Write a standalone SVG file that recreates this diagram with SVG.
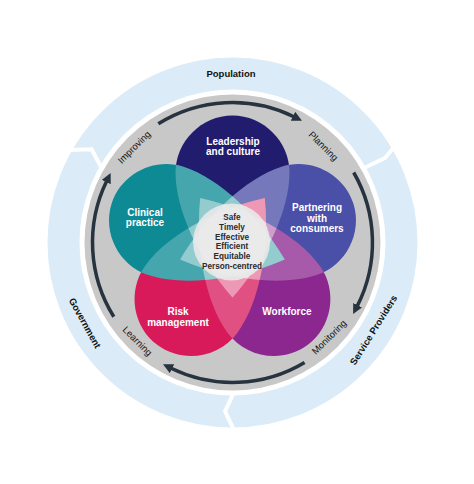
<svg xmlns="http://www.w3.org/2000/svg" width="474" height="484" viewBox="0 0 474 484">
<style>
.lbl{font-family:"Liberation Sans",Arial,sans-serif;font-weight:bold;font-size:10px;fill:#fff;text-anchor:middle}
.ctr{font-family:"Liberation Sans",Arial,sans-serif;font-weight:bold;font-size:8.2px;fill:#2b2b2b;text-anchor:middle}
.ring{font-family:"Liberation Sans",Arial,sans-serif;font-size:9.5px;fill:#151515;text-anchor:middle}
.outer{font-family:"Liberation Sans",Arial,sans-serif;font-weight:bold;font-size:9.5px;fill:#111;text-anchor:middle}
.arc{fill:none;stroke:#27333e;stroke-width:3.5;marker-end:url(#ah)}
.ov{fill:#fff;fill-opacity:0.24}
.brk{fill:none;stroke:#fff;stroke-width:4;stroke-linejoin:miter}
</style>
<defs>
<marker id="ah" markerUnits="userSpaceOnUse" viewBox="0 0 10 10" markerWidth="10" markerHeight="10" refX="1" refY="5" orient="auto"><path d="M0,0 L10,5 L0,10 z" fill="#27333e"/></marker>
<path id="petal" d="M0,-127 C31,-127 57,-101 57,-70 C57,-32 33,18 0,55 C-33,18 -57,-32 -57,-70 C-57,-101 -31,-127 0,-127 Z"/>
<clipPath id="c0"><use href="#petal" transform="translate(232.5 242.5) rotate(0)"/></clipPath>
<clipPath id="c1"><use href="#petal" transform="translate(232.5 242.5) rotate(72)"/></clipPath>
<clipPath id="c2"><use href="#petal" transform="translate(232.5 242.5) rotate(144)"/></clipPath>
<clipPath id="c3"><use href="#petal" transform="translate(232.5 242.5) rotate(216)"/></clipPath>
</defs>
<rect width="474" height="484" fill="#fff"/>
<g id="outer-ring">
<circle cx="232.5" cy="242.5" r="169" fill="none" stroke="#dbecf8" stroke-width="32"/>
<polyline class="brk" points="68.9,149.9 91.6,149.2 101.9,168.6"/>
<polyline class="brk" points="395,146 385,158 364,168"/>
<polyline class="brk" points="234.1,430.5 225.1,411.3 233.8,392.5"/>
</g>
<g id="outer-labels">
<text class="outer" x="231" y="77">Population</text>
<text class="outer" transform="translate(85 323) rotate(61)" y="3.4">Government</text>
<text class="outer" transform="translate(373.5 330) rotate(-58)" y="3.4">Service Providers</text>
</g>
<circle id="gray-disc" cx="232.5" cy="242.5" r="148" fill="#c8c8c8"/>
<g id="connectors">
<path class="arc" d="M158.3,123.8 A140,140 0 0 1 293.9,116.7"/>
<path class="arc" d="M353.7,172.5 A140,140 0 0 1 357.2,306.1"/>
<path class="arc" d="M304.6,362.5 A140,140 0 0 1 171.1,368.3"/>
<path class="arc" d="M113.8,316.7 A140,140 0 0 1 106.7,181.1"/>
</g>
<g id="cycle-labels">
<text class="ring" transform="translate(134 147) rotate(-45)" y="3.4">Improving</text>
<text class="ring" transform="translate(323.5 146) rotate(45)" y="3.4">Planning</text>
<text class="ring" transform="translate(329 337) rotate(-45)" y="3.4">Monitoring</text>
<text class="ring" transform="translate(137.5 341) rotate(45)" y="3.4">Learning</text>
</g>
<g id="leadership"><use href="#petal" transform="translate(232.5 242.5) rotate(0)" fill="#211c6d"/></g>
<g id="partnering"><use href="#petal" transform="translate(232.5 242.5) rotate(72)" fill="#4a4fa7"/></g>
<g id="workforce"><use href="#petal" transform="translate(232.5 242.5) rotate(144)" fill="#8c2790"/></g>
<g id="risk"><use href="#petal" transform="translate(232.5 242.5) rotate(216)" fill="#d81a5b"/></g>
<g id="clinical"><use href="#petal" transform="translate(232.5 242.5) rotate(288)" fill="#0d8a94"/></g>
<g id="overlaps">
<g clip-path="url(#c0)"><use class="ov" href="#petal" transform="translate(232.5 242.5) rotate(72)"/></g>
<g clip-path="url(#c0)"><use class="ov" href="#petal" transform="translate(232.5 242.5) rotate(144)"/></g>
<g clip-path="url(#c1)"><use class="ov" href="#petal" transform="translate(232.5 242.5) rotate(144)"/></g>
<g clip-path="url(#c0)"><use class="ov" href="#petal" transform="translate(232.5 242.5) rotate(216)"/></g>
<g clip-path="url(#c1)"><use class="ov" href="#petal" transform="translate(232.5 242.5) rotate(216)"/></g>
<g clip-path="url(#c2)"><use class="ov" href="#petal" transform="translate(232.5 242.5) rotate(216)"/></g>
<g clip-path="url(#c0)"><use class="ov" href="#petal" transform="translate(232.5 242.5) rotate(288)"/></g>
<g clip-path="url(#c1)"><use class="ov" href="#petal" transform="translate(232.5 242.5) rotate(288)"/></g>
<g clip-path="url(#c2)"><use class="ov" href="#petal" transform="translate(232.5 242.5) rotate(288)"/></g>
<g clip-path="url(#c3)"><use class="ov" href="#petal" transform="translate(232.5 242.5) rotate(288)"/></g>
</g>
<g id="petal-labels">
<text class="lbl" x="233" y="144.5">Leadership</text>
<text class="lbl" x="233" y="155">and culture</text>
<text class="lbl" x="145" y="215.5">Clinical</text>
<text class="lbl" x="145" y="226">practice</text>
<text class="lbl" x="317" y="211">Partnering</text>
<text class="lbl" x="317" y="221.5">with</text>
<text class="lbl" x="317" y="232">consumers</text>
<text class="lbl" x="178" y="315">Risk</text>
<text class="lbl" x="178" y="325.5">management</text>
<text class="lbl" x="287" y="315">Workforce</text>
</g>
<g id="centre">
<circle cx="231.5" cy="242" r="38.5" fill="#e9e9e9" fill-opacity="0.9"/>
<text class="ctr" x="232" y="220">Safe</text>
<text class="ctr" x="232" y="230">Timely</text>
<text class="ctr" x="232" y="239.5">Effective</text>
<text class="ctr" x="232" y="249">Efficient</text>
<text class="ctr" x="232" y="259">Equitable</text>
<text class="ctr" x="232" y="269">Person-centred</text>
</g>
</svg>
